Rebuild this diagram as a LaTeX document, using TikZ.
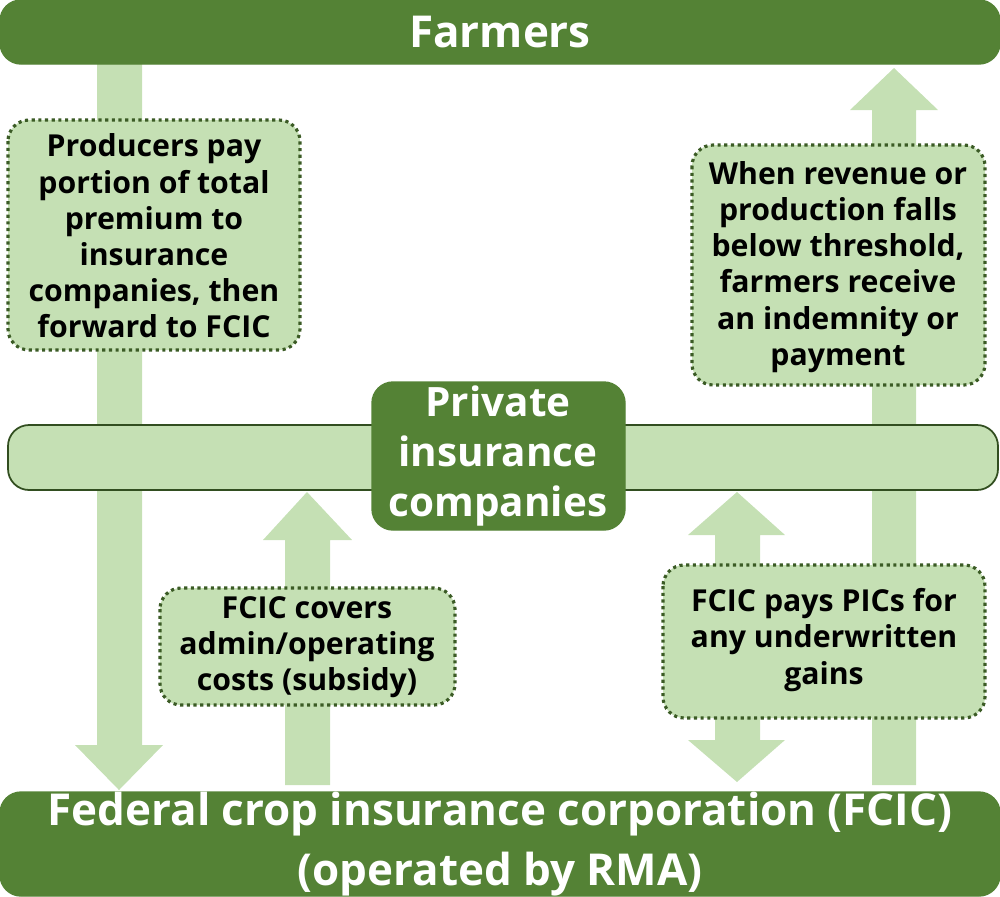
\documentclass[tikz,border=0pt]{standalone}
\usepackage{fontspec}
\setmainfont{Open Sans}
\definecolor{DARK}{HTML}{548235}
\definecolor{LIGHT}{HTML}{C5E0B4}
\tikzset{
  bar/.style={fill=DARK, draw=DARK, rounded corners=6pt},
  note/.style={fill=LIGHT, draw=DARK!70!black, densely dotted, line width=0.9pt, rounded corners=6pt},
  notetext/.style={font=\bfseries\fontsize{8.6}{10.3}\selectfont, align=center, text=black},
  barrow/.style={fill=LIGHT, draw=none}
}
\begin{document}
\begin{tikzpicture}[x=0.01cm, y=-0.01cm]
\useasboundingbox (0,0) rectangle (1000,896);
% block arrows
\fill[barrow] (97,60) -- (142,60) -- (142,745) -- (163,745) -- (119,790) -- (75,745) -- (97,745) -- cycle;
\fill[barrow] (285,785) -- (330,785) -- (330,540) -- (352,540) -- (307,492) -- (263,540) -- (285,540) -- cycle;
\fill[barrow] (715,535) -- (688,535) -- (737,492) -- (785,535) -- (760,535) -- (760,740) -- (785,740) -- (737,782) -- (688,740) -- (715,740) -- cycle;
\fill[barrow] (872,785) -- (916,785) -- (916,110) -- (938,110) -- (894,68) -- (850,110) -- (872,110) -- cycle;
% bars
\draw[bar] (0,0) rectangle (1000,64);
\node[text=white, font=\bfseries\fontsize{12.5}{15}\selectfont] (farmers) at (500,32) {Farmers};
\draw[bar] (0,792) rectangle (1000,896);
\node[text=white, font=\bfseries\fontsize{12.5}{17}\selectfont, align=center] (fcic) at (500,844) {Federal crop insurance corporation (FCIC)\\(operated by RMA)};
\draw[fill=LIGHT, draw=DARK!60!black, line width=0.5pt, rounded corners=6pt] (8,425) rectangle (998,490);
\draw[bar] (372,382) rectangle (625,530);
\node[text=white, font=\bfseries\fontsize{11.5}{14.2}\selectfont, align=center] (pic) at (498,456) {Private\\insurance\\companies};
% notes
\draw[note] (8,120) rectangle (300,350);
\node[notetext] (pay) at (154,236) {Producers pay\\portion of total\\premium to\\insurance\\companies, then\\forward to FCIC};
\draw[note] (160,588) rectangle (455,705);
\node[notetext] (admin) at (307,647) {FCIC covers\\admin/operating\\costs (subsidy)};
\draw[note] (663,565) rectangle (985,718);
\node[notetext] (gains) at (824,640) {FCIC pays PICs for\\any underwritten\\gains};
\draw[note] (692,145) rectangle (985,385);
\node[notetext] (indem) at (838,267) {When revenue or\\production falls\\below threshold,\\farmers receive\\an indemnity or\\payment};
\end{tikzpicture}
\end{document}
